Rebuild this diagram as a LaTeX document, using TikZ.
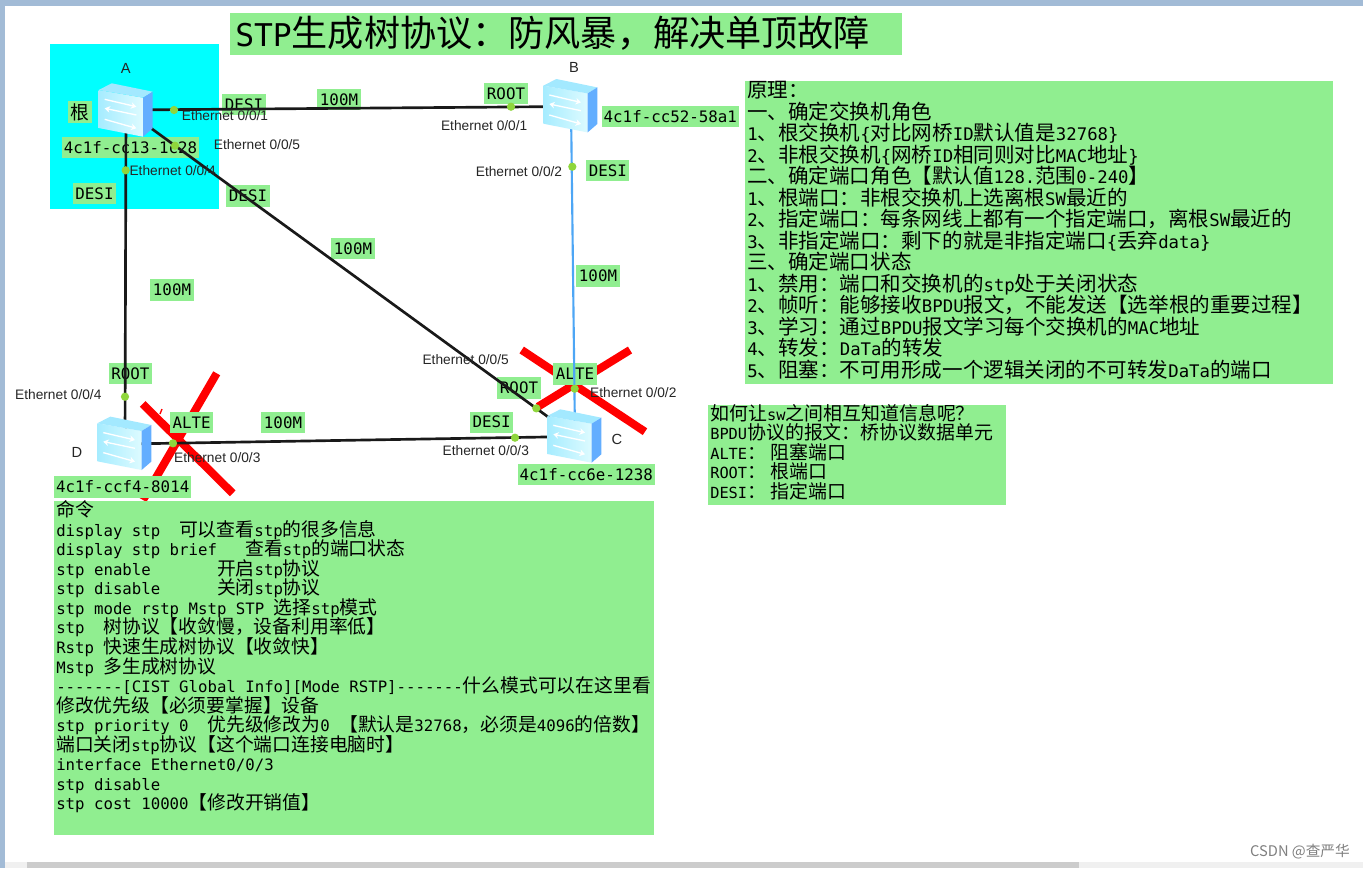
\documentclass[tikz,border=0pt]{standalone}
\usepackage{fontspec}
\usetikzlibrary{arrows.meta}
\newfontfamily\mono{DejaVu Sans Mono}
\newfontfamily\cjk{Noto Sans CJK SC}
\newfontfamily\arial{Liberation Sans}
\newcommand\cjs{14.1pt}
\newcommand\C[1]{{\fontsize{\cjs}{\cjs}\cjk #1}}
\setlength{\normallineskiplimit}{-100pt}
\setlength{\lineskiplimit}{-100pt}
\definecolor{lgreen}{HTML}{90EE90}
\definecolor{frameblue}{HTML}{A2BBD6}
\definecolor{dotgreen}{HTML}{8FD63C}
\definecolor{linkblue}{HTML}{4DA6F5}
\definecolor{aqua}{HTML}{00FFFF}
\definecolor{pure}{HTML}{FF0000}
\definecolor{frontl}{HTML}{A6ECFF}
\definecolor{frontr}{HTML}{DDFBFF}
\definecolor{topface}{HTML}{A3E9FF}
\definecolor{sideface}{HTML}{63AEFF}
\tikzset{
  x=0.75pt,y=-0.75pt,
  gbox/.style={fill=lgreen,draw=none,inner sep=0pt,minimum width=32.5pt,minimum height=16pt,font=\fontsize{11.85pt}{14pt}\mono},
  macbox/.style={gbox,minimum width=103pt},
  eth/.style={inner sep=0pt,font=\fontsize{10.3pt}{12pt}\arial,text=black!85},
  swname/.style={inner sep=0pt,font=\fontsize{11pt}{12pt}\arial,text=black!85},
  anchorsw/.style={inner sep=0pt,minimum size=40pt},
  link/.style={draw=black!90,line width=2pt},
  blink/.style={draw=linkblue,line width=1.6pt},
  redx/.style={draw=pure,line width=6pt},
  portdot/.style={circle,fill=dotgreen,draw=none,inner sep=0pt,minimum size=6.2pt},
  panel/.style={anchor=north west,inner sep=0pt,align=left},
  pics/swicon/.style={code={
    \shade[left color=frontl,right color=frontr] (0,0)--(44.3,7.7)--(44.3,46.7)--(0,38)--cycle;
    \fill[topface] (0,0)--(13,-6.7)--(54,1.7)--(44.3,7.7)--cycle;
    \fill[sideface] (44.3,7.7)--(54,1.7)--(54,38.3)--(44.3,46.7)--cycle;
    \draw[white,line width=1pt,-{Stealth[length=4pt,width=5pt]}] (6,9.3)--(37.7,16.7);
    \draw[white,line width=1pt,-{Stealth[length=4pt,width=5pt]}] (37.7,25)--(6,18.3);
    \draw[white,line width=1pt,-{Stealth[length=4pt,width=5pt]}] (6,29.3)--(37.7,38.3);
  }}
}
\begin{document}
\begin{tikzpicture}
\useasboundingbox (0,0) rectangle (1363,868);
\fill[white] (0,0) rectangle (1363,868);
% window frame
\fill[frameblue] (0,0) rectangle (1363,6);
\fill[frameblue] (0,0) rectangle (5,868);
\fill[black!6] (5,862) rectangle (1363,868);
\fill[black!20] (27,862) rectangle (1079,868);
\node[anchor=east,inner sep=0pt,font=\fontsize{11pt}{12pt}\cjk,text=black!50] (wm) at (1350,852) {CSDN @查严华};
% root area
\fill[aqua] (50,44) rectangle (219,209);
% crosses
\draw[redx] (216.7,373.3) -- (143,500);
\draw[redx] (142.7,404) -- (232.7,493.3);
\draw[pure,line width=1pt] (162,409) -- (160,414);
\draw[redx] (521.7,350) -- (645,431.7);
\draw[redx] (630,350) -- (538,406.7);
% switches (anchors)
\node[anchorsw] (A) at (126,110) {};
\node[anchorsw] (B) at (571,106.5) {};
\node[anchorsw] (C) at (575,436.5) {};
\node[anchorsw] (D) at (125,444) {};
% boxed labels
\node[gbox,minimum width=18pt] (rootmark) at (80,112) {\C{根}};
\node[macbox] (macA) at (130.5,147.3) {4c1f-cc13-1c28};
\node[macbox] (macB) at (670.3,116.3) {4c1f-cc52-58a1};
\node[macbox] (macC) at (586.3,474.8) {4c1f-cc6e-1238};
\node[macbox] (macD) at (122.7,487) {4c1f-ccf4-8014};
\node[gbox] (l1) at (244,104.5) {DESI};
\node[gbox] (l2) at (94.5,193.3) {DESI};
\node[gbox] (l3) at (248,196) {DESI};
\node[gbox] (l4) at (506,93.3) {ROOT};
\node[gbox] (l5) at (607.8,170.8) {DESI};
\node[gbox] (l6) at (130.3,373.3) {ROOT};
\node[gbox] (l7) at (191.7,422.8) {ALTE};
\node[gbox] (l8) at (519,388) {ROOT};
\node[gbox] (l9) at (575,374) {ALTE};
\node[gbox] (l10) at (491.7,422.2) {DESI};
\node[gbox] (m1) at (339,99.7) {100M};
\node[gbox] (m2) at (353,248.3) {100M};
\node[gbox] (m3) at (598,276) {100M};
\node[gbox] (m4) at (172,290) {100M};
\node[gbox] (m5) at (283,422.3) {100M};
% links
\draw[link] (A.center) -- (B.center);
\draw[link] (A.center) -- (D.center);
\draw[link] (A.center) -- (C.center);
\draw[link] (D.center) -- (C.center);
\draw[blink] (B.center) -- (C.center);
% switch icons
\pic at (98.7,90) {swicon};
\pic at (543.3,85.7) {swicon};
\pic at (547.3,416) {swicon};
\pic at (97.3,423.3) {swicon};
% port dots
\foreach \n/\p in {a1/{174,110},a2/{125.7,170.3},a3/{175,145.7},b1/{511,106.7},b2/{572.3,166.7},c1/{536.3,408.3},c2/{574.7,388.7},c3/{515,437.7},d1/{125,396.7},d2/{173,443.3}}
  \node[portdot] (\n) at (\p) {};
% switch names
\node[swname] (nA) at (125.7,68) {A};
\node[swname] (nB) at (574,67) {B};
\node[swname] (nC) at (617,439) {C};
\node[swname] (nD) at (77,452) {D};
% port names
\node[eth] (e1) at (225,116) {Ethernet 0/0/1};
\node[eth] (e2) at (257,145) {Ethernet 0/0/5};
\node[eth] (e3) at (172.7,171) {Ethernet 0/0/4};
\node[eth] (e4) at (484.2,126) {Ethernet 0/0/1};
\node[eth] (e5) at (519,171.7) {Ethernet 0/0/2};
\node[eth] (e6) at (465.7,360) {Ethernet 0/0/5};
\node[eth] (e7) at (633.3,392.3) {Ethernet 0/0/2};
\node[eth] (e8) at (485.8,451) {Ethernet 0/0/3};
\node[eth] (e9) at (58.3,395) {Ethernet 0/0/4};
\node[eth] (e10) at (217.3,457.3) {Ethernet 0/0/3};
% title
\fill[lgreen] (230,13) rectangle (902,55);
\renewcommand\cjs{27.1pt}
\node[anchor=west,inner sep=0pt,font=\fontsize{23.5pt}{26pt}\mono] (title) at (235,33) {STP\C{生成树协议：防风暴，解决单顶故障}};
% principle panel
\fill[lgreen] (745,81) rectangle (1333,384);
\renewcommand\cjs{15.4pt}
\node[panel,font=\fontsize{13pt}{16.15pt}\mono] (principle) at (747,81) {%
\C{原理：}\\
\C{一、确定交换机角色}\\
1\C{、根交换机}\{\C{对比网桥}ID\C{默认值是}32768\}\\
2\C{、非根交换机}\{\C{网桥}ID\C{相同则对比}MAC\C{地址}\}\\
\C{二、确定端口角色【默认值}128.\C{范围}0-240\C{】}\\
1\C{、根端口：非根交换机上选离根}SW\C{最近的}\\
2\C{、指定端口：每条网线上都有一个指定端口，离根}SW\C{最近的}\\
3\C{、非指定端口：剩下的就是非指定端口}\{\C{丢弃}data\}\\
\C{三、确定端口状态}\\
1\C{、禁用：端口和交换机的}stp\C{处于关闭状态}\\
2\C{、帧听：能够接收}BPDU\C{报文，不能发送【选举根的重要过程】}\\
3\C{、学习：通过}BPDU\C{报文学习每个交换机的}MAC\C{地址}\\
4\C{、转发：}DaTa\C{的转发}\\
5\C{、阻塞：不可用形成一个逻辑关闭的不可转发}DaTa\C{的端口}};
% small panel
\fill[lgreen] (708,405) rectangle (1006,505);
\renewcommand\cjs{14.2pt}
\node[panel,font=\fontsize{11.5pt}{14.6pt}\mono] (legend) at (710,404) {%
\C{如何让}sw\C{之间相互知道信息呢？}\\
BPDU\C{协议的报文：桥协议数据单元}\\
ALTE\C{： 阻塞端口}\\
ROOT\C{： 根端口}\\
DESI\C{： 指定端口}};
% command panel
\fill[lgreen] (54,501) rectangle (654,835);
\renewcommand\cjs{14.1pt}
\node[panel,font=\fontsize{11.78pt}{14.65pt}\mono] (commands) at (56,500.5) {%
\C{命令}\\
display stp~~\C{可以查看}stp\C{的很多信息}\\
display stp brief~~~\C{查看}stp\C{的端口状态}\\
stp enable~~~~~~~\C{开启}stp\C{协议}\\
stp disable~~~~~~\C{关闭}stp\C{协议}\\
stp mode rstp Mstp STP~\C{选择}stp\C{模式}\\
stp~~\C{树协议【收敛慢，设备利用率低】}\\
Rstp~\C{快速生成树协议【收敛快】}\\
Mstp~\C{多生成树协议}\\
-------[CIST Global Info][Mode RSTP]-------\C{什么模式可以在这里看}\\
\C{修改优先级【必须要掌握】设备}\\
stp priority 0~~\C{优先级修改为}0~\C{【默认是}32768\C{，必须是}4096\C{的倍数】}\\
\C{端口关闭}stp\C{协议【这个端口连接电脑时】}\\
interface Ethernet0/0/3\\
stp disable\\
stp cost 10000\C{【修改开销值】}};
\end{tikzpicture}
\end{document}
